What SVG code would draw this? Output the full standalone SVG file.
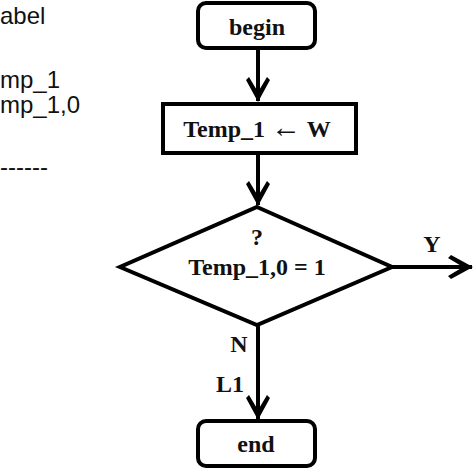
<svg xmlns="http://www.w3.org/2000/svg" width="474" height="474" viewBox="0 0 474 474">
<defs>
<style>
.box{fill:#fff;stroke:#000;stroke-width:4}
.lbl{font-family:"Liberation Serif","Times New Roman",serif;font-weight:bold;font-size:24px;fill:#111;text-anchor:middle}
.side{font-family:"Liberation Sans",Arial,sans-serif;font-size:24px;fill:#111}
.con{stroke:#000;stroke-width:4;fill:none}
</style>
<marker id="arr" markerUnits="userSpaceOnUse" viewBox="-26 -14 28 28" refX="0" refY="0" markerWidth="28" markerHeight="28" orient="auto">
<polygon points="1,0 -21,-12 -24,-9 -9,0 -24,9 -21,12" fill="#000"/>
</marker>
</defs>
<rect width="474" height="474" fill="#fff"/>
<g id="legend">
<text class="side" x="0" y="24">abel</text>
<text class="side" x="0" y="88">mp_1</text>
<text class="side" x="0" y="113">mp_1,0</text>
<text class="side" x="0" y="175">------</text>
</g>
<g id="connectors">
<line class="con" x1="258" y1="48" x2="258" y2="101" marker-end="url(#arr)"/>
<line class="con" x1="258" y1="153" x2="258" y2="205" marker-end="url(#arr)"/>
<line class="con" x1="392" y1="267" x2="472" y2="267" marker-end="url(#arr)"/>
<line class="con" x1="258" y1="325" x2="258" y2="419" marker-end="url(#arr)"/>
<text class="lbl" x="432" y="252">Y</text>
<text class="lbl" x="239" y="352">N</text>
<text class="lbl" x="230" y="392">L1</text>
</g>
<g id="begin">
<rect class="box" x="198" y="3" width="117" height="45" rx="8"/>
<text class="lbl" x="257" y="35">begin</text>
</g>
<g id="assign">
<rect class="box" x="163" y="104" width="193" height="49"/>
<text class="lbl" x="257" y="137">Temp_1 <tspan font-size="30">←</tspan> W</text>
</g>
<g id="decision">
<polygon class="box" points="257,207 392,267 257,325 120,267"/>
<text class="lbl" x="257" y="245">?</text>
<text class="lbl" x="257" y="275">Temp_1,0 = 1</text>
</g>
<g id="end">
<rect class="box" x="198" y="421" width="117" height="45" rx="8"/>
<text class="lbl" x="256" y="452">end</text>
</g>
</svg>
